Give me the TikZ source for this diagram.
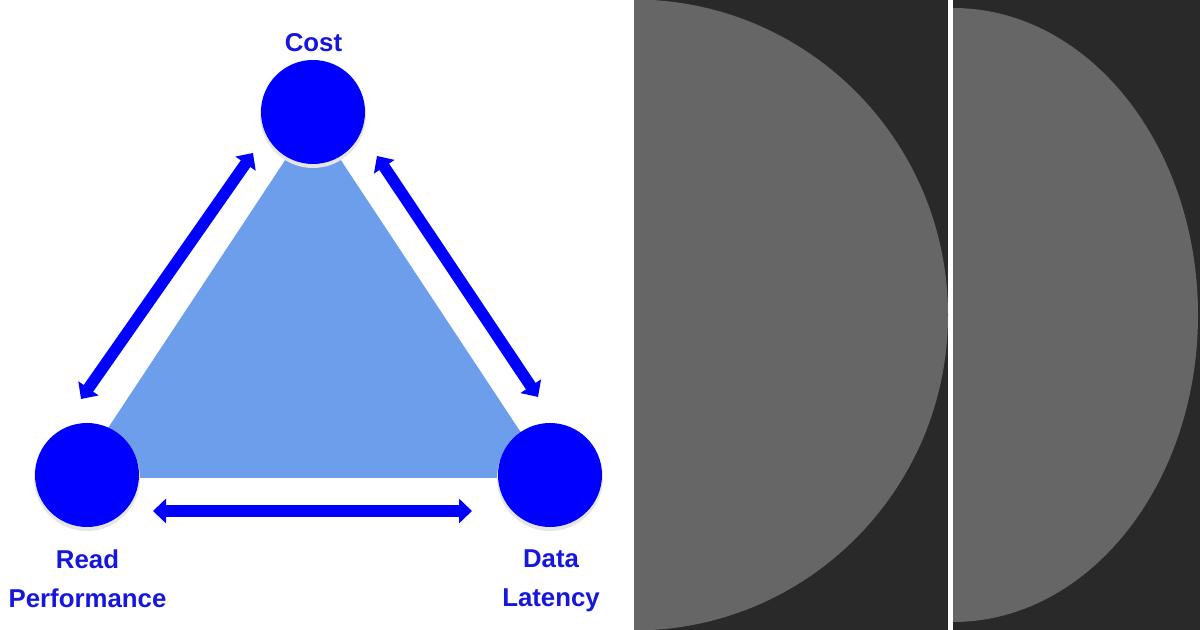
\documentclass[tikz,border=0pt]{standalone}
\usepackage{fontspec}
\setmainfont{Liberation Sans}
\usetikzlibrary{arrows.meta}
\definecolor{dotblue}{RGB}{0,0,255}
\definecolor{textblue}{RGB}{22,22,220}
\definecolor{trifill}{RGB}{109,158,235}
\definecolor{paneldark}{RGB}{41,41,41}
\definecolor{halfgray}{RGB}{102,102,102}
\begin{document}
\begin{tikzpicture}[x=0.5pt, y=-0.5pt,
    vertex/.style={circle, fill=dotblue, minimum size=52pt, inner sep=0pt},
    halo/.style={circle, fill=black!10, minimum size=53pt, inner sep=0pt},
    lbl/.style={text=textblue, font=\bfseries\fontsize{12.9pt}{19.5pt}\selectfont,
        align=center, inner sep=0pt, anchor=north},
    link/.style={dotblue, line width=5.8pt,
        {Triangle[width=12pt,length=6.5pt]}-{Triangle[width=12pt,length=6.5pt]}}]
        \useasboundingbox (0,0) rectangle (1200,630);
        \fill[white] (0,0) rectangle (634,630);
        \fill[trifill] (75,478) -- (313,118) -- (551,478) -- cycle;
        \node[halo] at (313,115) {};
        \node[halo] at (87,478) {};
        \node[halo] at (550,478) {};
        \node[vertex] (cost) at (313,112) {};
        \node[vertex] (read) at (87,475) {};
        \node[vertex] (data) at (550,475) {};
        \node[lbl] (costlbl) at (313.5,33) {Cost};
        \node[lbl] (readlbl) at (87.5,549) {Read\\Performance};
        \node[lbl] (datalbl) at (551,549) {Data\\Latency};
        \coordinate (rc1) at (81,399);
        \coordinate (rc2) at (253,153);
        \coordinate (cd1) at (377,156);
        \coordinate (cd2) at (538,397);
        \coordinate (rd1) at (153,511);
        \coordinate (rd2) at (472,511);
        \draw[link] (rc1) -- (rc2);
        \draw[link] (cd1) -- (cd2);
        \draw[link] (rd1) -- (rd2);
        \fill[paneldark] (634,0) rectangle (948,630);
        \fill[white] (948,0) rectangle (953,630);
        \fill[paneldark] (953,0) rectangle (1200,630);
        \begin{scope}
            \clip (634,0) rectangle (948,630);
            \fill[halfgray] (634,315) ellipse [x radius=314, y radius=315.5];
        \end{scope}
        \begin{scope}
            \clip (953,0) rectangle (1200,630);
            \fill[halfgray] (953,315) ellipse [x radius=245, y radius=307];
        \end{scope}
    \end{tikzpicture}
\end{document}
